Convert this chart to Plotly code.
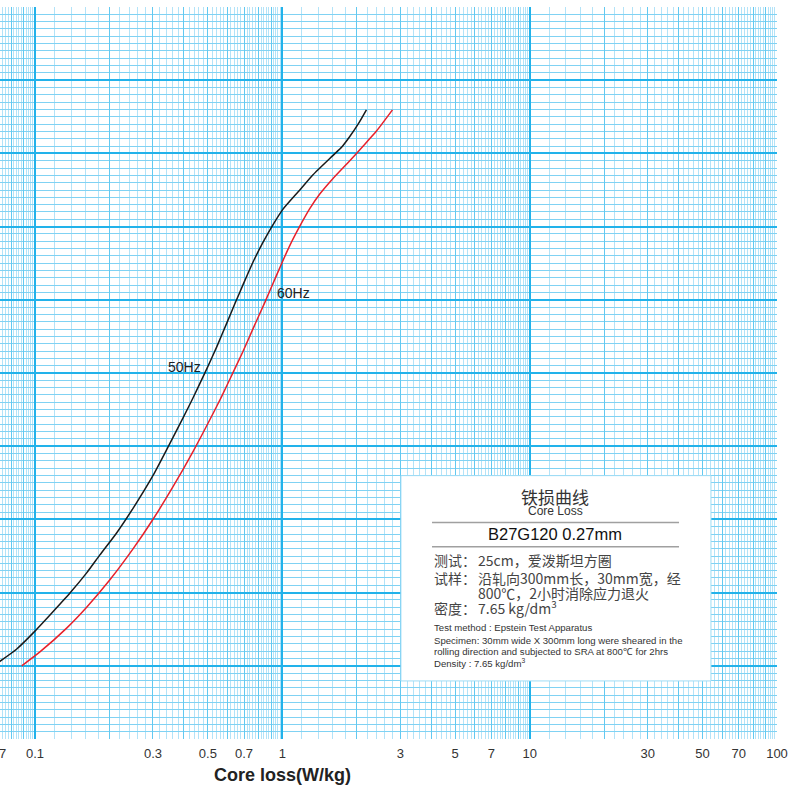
import plotly.graph_objects as go

# кривые потерь: потери (Вт/кг) и индукция (Тл)
loss_50hz = [0.068, 0.0844, 0.0984, 0.115, 0.1385, 0.1618, 0.183, 0.2138, 0.2495,
             0.3006, 0.3404, 0.3973, 0.4348, 0.4955, 0.5436, 0.5968, 0.6427,
             0.6925, 0.760, 0.834, 0.915, 1.005, 1.177, 1.328, 1.600, 1.743,
             1.874, 2.034, 2.188]
b_50hz = [0.400, 0.446, 0.490, 0.539, 0.599, 0.654, 0.703, 0.763, 0.831,
          0.921, 0.990, 1.078, 1.131, 1.212, 1.272, 1.337, 1.389,
          1.440, 1.502, 1.556, 1.604, 1.647, 1.700, 1.741, 1.794, 1.818,
          1.846, 1.882, 1.919]

loss_60hz = [0.0884, 0.1047, 0.1343, 0.1618, 0.2009, 0.2495, 0.3006, 0.362, 0.436,
             0.5254, 0.5694, 0.6136, 0.6925, 0.760, 0.850, 0.915, 0.995, 1.072,
             1.177, 1.291, 1.417, 1.600, 1.874, 2.115, 2.402, 2.788]
b_60hz = [0.400, 0.438, 0.503, 0.560, 0.635, 0.720, 0.801, 0.890, 0.986,
          1.090, 1.137, 1.183, 1.258, 1.320, 1.393, 1.443, 1.500, 1.548,
          1.601, 1.649, 1.689, 1.731, 1.780, 1.819, 1.861, 1.919]

# подписи оси x
x_tick_vals = [0.1, 0.3, 0.5, 0.7, 1, 3, 5, 7, 10, 30, 50, 70, 100]
x_tick_text = ["0.1", "0.3", "0.5", "0.7", "1", "3", "5", "7", "10", "30", "50", "70", "100"]
decades = [0.1, 1, 10, 100]

# сетка логарифмической бумаги
mid_vals = [m * d for d in [0.01, 0.1, 1, 10] for m in range(2, 10)]
fine_vals = [round(k * 0.2 * d, 6) for d in [0.01, 0.1, 1, 10] for k in range(6, 50) if k % 5]

grid_major = "#22b2ea"
grid_mid = "#62c9f1"
grid_fine = "#b3e3f8"

fig = go.Figure()
fig.add_trace(go.Scatter(x=loss_50hz, y=b_50hz, mode="lines", name="50Hz",
                         line=dict(color="#1a1a1a", width=1.5, shape="spline", smoothing=0.6)))
fig.add_trace(go.Scatter(x=loss_60hz, y=b_60hz, mode="lines", name="60Hz",
                         line=dict(color="#e8202a", width=1.5, shape="spline", smoothing=0.6)))

xrange = [-1.1414, 2.0]
fig.update_layout(
    width=800, height=800,
    margin=dict(l=0, r=23, t=7, b=61),
    paper_bgcolor="white", plot_bgcolor="white",
    showlegend=False,
    font=dict(family="Liberation Sans, Arial", color="#333333"),
    xaxis=dict(type="log", range=xrange, tickmode="array", tickvals=mid_vals,
               showticklabels=False, showgrid=True, gridcolor=grid_mid, gridwidth=1,
               zeroline=False, showline=False, ticks="",
               minor=dict(tickmode="array", tickvals=fine_vals, showgrid=True,
                          gridcolor=grid_fine, gridwidth=1)),
    xaxis2=dict(type="log", range=xrange, overlaying="x", anchor="y",
                tickmode="array", tickvals=x_tick_vals, ticktext=x_tick_text,
                tickfont=dict(size=13, color="#333333"), side="bottom",
                ticklabelstandoff=5,
                showgrid=False, zeroline=False, showline=False, ticks=""),
    xaxis3=dict(type="log", range=xrange, overlaying="x", anchor="y",
                tickmode="array", tickvals=decades, showticklabels=False,
                showgrid=True, gridcolor=grid_major, gridwidth=2,
                zeroline=False, showline=False, ticks=""),
    yaxis=dict(range=[0.2, 2.2], tick0=0.2, dtick=0.2, showticklabels=False,
               showgrid=True, gridcolor=grid_major, gridwidth=1.5,
               zeroline=False, showline=False, ticks="",
               minor=dict(dtick=0.02, showgrid=True, gridcolor="#80d2f3", gridwidth=1)),
)

# невидимые трассы, чтобы наложенные оси отрисовались
fig.add_trace(go.Scatter(x=decades, y=[None] * 4, xaxis="x2", showlegend=False, hoverinfo="skip"))
fig.add_trace(go.Scatter(x=decades, y=[None] * 4, xaxis="x3", showlegend=False, hoverinfo="skip"))


def note(x, y, text, size, xanchor="center", color="#333333", family=None, xref="paper", yref="paper"):
    f = dict(size=size, color=color)
    if family:
        f["family"] = family
    fig.add_annotation(x=x, y=y, xref=xref, yref=yref, text=text, showarrow=False,
                       xanchor=xanchor, yanchor="middle", font=f)


# подписи кривых (для лог-оси x задаётся в log10)
note(-0.321, 1.216, "50Hz", 14, xanchor="right", color="#222222", xref="x", yref="y")
note(-0.0303, 1.419, "60Hz", 14, xanchor="left", color="#222222", xref="x", yref="y")

# обрезанная подпись 0.07
note(0.0097, -0.0192, "0.07", 13, xanchor="right")
note(0.363, -0.0492, "<b>Core loss(W/kg)</b>", 18, color="#222222")

# белая табличка
fig.add_shape(type="rect", xref="paper", yref="paper", x0=0.516, x1=0.915, y0=0.0793, y1=0.3598,
              fillcolor="white", line=dict(color="#9fdcf5", width=1), layer="above")
for yy in [0.2959, 0.2627]:
    fig.add_shape(type="line", xref="paper", yref="paper", x0=0.556, x1=0.8739, y0=yy, y1=yy,
                  line=dict(color="#a0a0a0", width=1.5), layer="above")

cjk = "Noto Sans CJK SC"
note(0.7143, 0.3315, "铁损曲线", 17, family=cjk)
note(0.7143, 0.3109, "Core Loss", 12)
note(0.7143, 0.2804, "B27G120 0.27mm", 16.5, color="#111111")

rows_cn = [
    ("测试：", "25cm，爱泼斯坦方圈", 0.2449),
    ("试样：", "沿轧向300mm长，30mm宽，经", 0.2202),
    ("", "800℃，2小时消除应力退火", 0.2001),
    ("密度：", "7.65 kg/dm<sup>3</sup>", 0.1792),
]
for label, value, yy in rows_cn:
    if label:
        note(0.556, yy, label, 14, xanchor="left", color="#444444", family=cjk)
    note(0.6126, yy, value, 14, xanchor="left", color="#444444", family=cjk)

rows_en = [
    ("Test method : Epstein Test Apparatus", 0.1523),
    ("Specimen: 30mm wide X 300mm long were sheared in the", 0.1341),
    ("rolling direction and subjected to SRA at 800℃ for 2hrs", 0.1194),
    ("Density : 7.65 kg/dm<sup>3</sup>", 0.1036),
]
for text, yy in rows_en:
    note(0.556, yy, text, 9.6, xanchor="left")

# убираем отступ страницы, чтобы график стоял в углу окна
fig.write_html("out.html", config={"displayModeBar": False},
               post_script="document.body.style.margin='0';")
